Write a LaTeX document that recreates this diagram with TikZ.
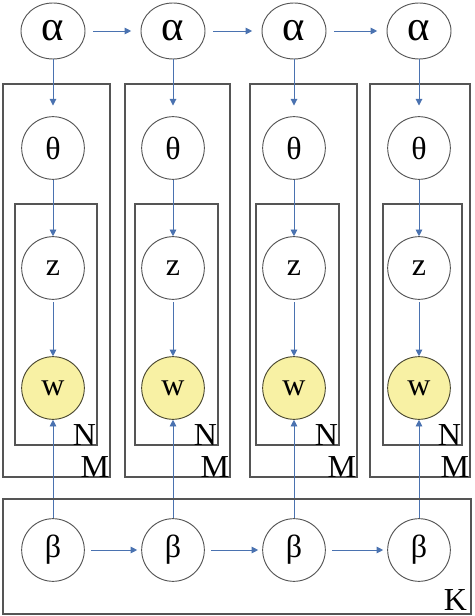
\documentclass[tikz,border=0pt]{standalone}
\usepackage{fontspec}
\setmainfont{Liberation Serif}
\usetikzlibrary{arrows.meta,shapes.geometric}
\definecolor{arr}{HTML}{4A72B0}
\definecolor{wfill}{HTML}{F8F1A4}
\definecolor{boxc}{HTML}{555555}
\tikzset{
  var/.style={circle,draw=boxc,line width=0.7pt,minimum size=47pt,inner sep=0pt,font=\fontsize{24}{24}\selectfont},
  hyper/.style={ellipse,draw=boxc,line width=0.7pt,minimum width=48pt,minimum height=42pt,inner sep=0pt,font=\fontsize{32}{32}\selectfont},
  obs/.style={var,fill=wfill,draw=black!70!wfill},
  plate/.style={draw=boxc,line width=0.8pt},
  platelab/.style={anchor=south east,inner sep=0.5pt,font=\fontsize{24}{24}\selectfont},
  link/.style={draw=arr,line width=0.7pt,-{Triangle[width=5pt,length=5pt]}}
}
\begin{document}
\begin{tikzpicture}[x=0.75pt,y=-0.75pt]
\useasboundingbox (0,0) rectangle (474,616);
% columns
\foreach \i/\cx/\ml/\mr/\nl/\nr in {1/53/3/110/15/97, 2/173/125/230/135/218, 3/294/250/357/256/339, 4/419/370/470/383/462}{
  \draw[plate] (\ml,84) rectangle (\mr,477);
  \draw[plate] (\nl,204) rectangle (\nr,445);
  \node[platelab] (N\i) at (\nr,446) {N};
  \node[platelab] (M\i) at (\mr,478) {M};
  \node[hyper] (a\i) at (\cx,31) {α};
  \node[var] (t\i) at (\cx,148) {θ};
  \node[var] (z\i) at (\cx,268) {z};
  \node[obs] (w\i) at (\cx,388) {w};
  \node[var] (b\i) at (\cx,550) {β};
  \draw[link,shorten >=8pt] (a\i) -- (t\i);
  \draw[link] (t\i) -- (z\i);
  \draw[link,shorten <=2pt] (z\i) -- (w\i);
  \draw[link] (b\i) -- (w\i);
}
\draw[plate] (3,499) rectangle (471,614);
\node[platelab] (K) at (468,611) {K};
\foreach \p/\q in {1/2,2/3,3/4}{
  \draw[link,shorten <=6pt,shorten >=7pt] (a\p) -- (a\q);
  \draw[link,shorten <=5pt,shorten >=3pt] (b\p) -- (b\q);
}
\end{tikzpicture}
\end{document}
